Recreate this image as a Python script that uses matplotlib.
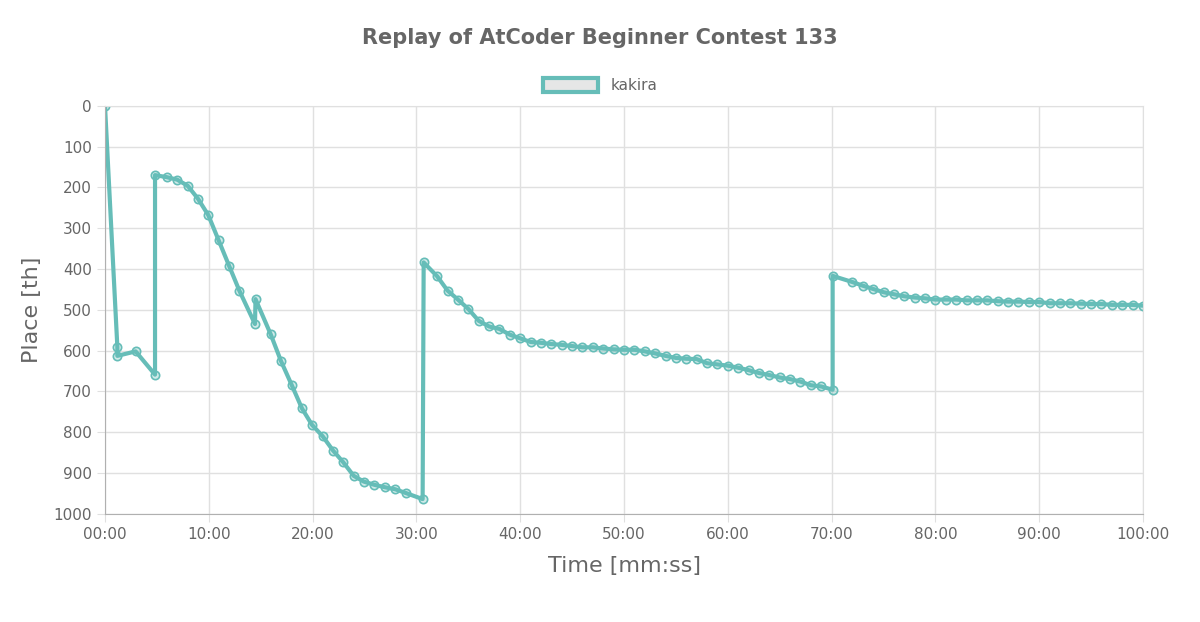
import matplotlib
matplotlib.use("Agg")
import matplotlib.pyplot as plt
from matplotlib.patches import Patch

times = [0, 1.19, 1.19, 2.95, 4.82, 4.82, 5.94, 6.94, 7.96, 8.96, 9.95, 10.95, 11.95, 12.94,
         14.45, 14.5, 15.96, 16.96, 17.98, 18.98, 19.94, 20.97, 21.97, 22.96, 23.96, 24.92,
         25.95, 26.97, 27.97, 28.97, 30.6, 30.7] + list(range(32, 70)) + [70.1, 70.1] + list(range(72, 101))
places = [0, 591, 613, 602, 659, 170, 175, 181, 196, 228, 268, 330, 392, 453,
          535, 474, 560, 626, 684, 742, 782, 810, 845, 874, 907, 921,
          929, 935, 940, 949, 964, 384] + \
         [418, 453, 475, 498, 527, 541, 547, 561, 570, 579, 581, 584, 586, 589, 592, 592, 595, 597,
          598, 598, 602, 607, 613, 618, 620, 621, 631, 634, 637, 642, 648, 655, 660, 666, 670, 676,
          685, 688] + [696, 417] + \
         [432, 441, 449, 457, 462, 467, 470, 472, 475, 475, 475, 477, 477, 477, 479, 480, 480, 481,
          481, 484, 484, 484, 485, 486, 486, 488, 488, 488, 490]
x_ticks = list(range(0, 101, 10))
x_labels = [f"{m:02d}:00" for m in x_ticks]
y_ticks = list(range(0, 1001, 100))

color = "#66BDB8"
fig = plt.figure(figsize=(12, 6.22), dpi=100)
ax = fig.add_axes([0.0875, 0.174, 0.865, 0.656])
ax.plot(times, places, color=color, lw=3, marker='o', ms=6, mfc=(0.4, 0.74, 0.72, 0.3),
        mec=color, mew=1.2, solid_joinstyle='round')
ax.set_xlim(0, 100)
ax.set_ylim(1000, 0)
ax.set_xticks(x_ticks)
ax.set_xticklabels(x_labels)
ax.set_yticks(y_ticks)
ax.grid(True, color="#e0e0e0", lw=1)
ax.set_axisbelow(True)
for s in ax.spines.values():
    s.set_color("#e0e0e0")
ax.spines['left'].set_color("#b0b0b0")
ax.spines['bottom'].set_color("#b0b0b0")
ax.tick_params(colors="#666666", labelsize=11, length=6, color="#e0e0e0")
ax.set_xlabel("Time [mm:ss]", fontsize=16, color="#666666", labelpad=10)
ax.set_ylabel("Place [th]", fontsize=16, color="#666666", labelpad=8)
fig.suptitle("Replay of AtCoder Beginner Contest 133", fontsize=15, fontweight='bold',
             color="#666666", y=0.955)
leg = fig.legend(handles=[Patch(facecolor="#e6e6e6", edgecolor=color, lw=3, label="kakira")],
                 loc='center', bbox_to_anchor=(0.5, 0.862), frameon=False, fontsize=11,
                 handlelength=3.6, handleheight=1.0)
for t in leg.get_texts():
    t.set_color("#666666")
fig.savefig("out.png")
